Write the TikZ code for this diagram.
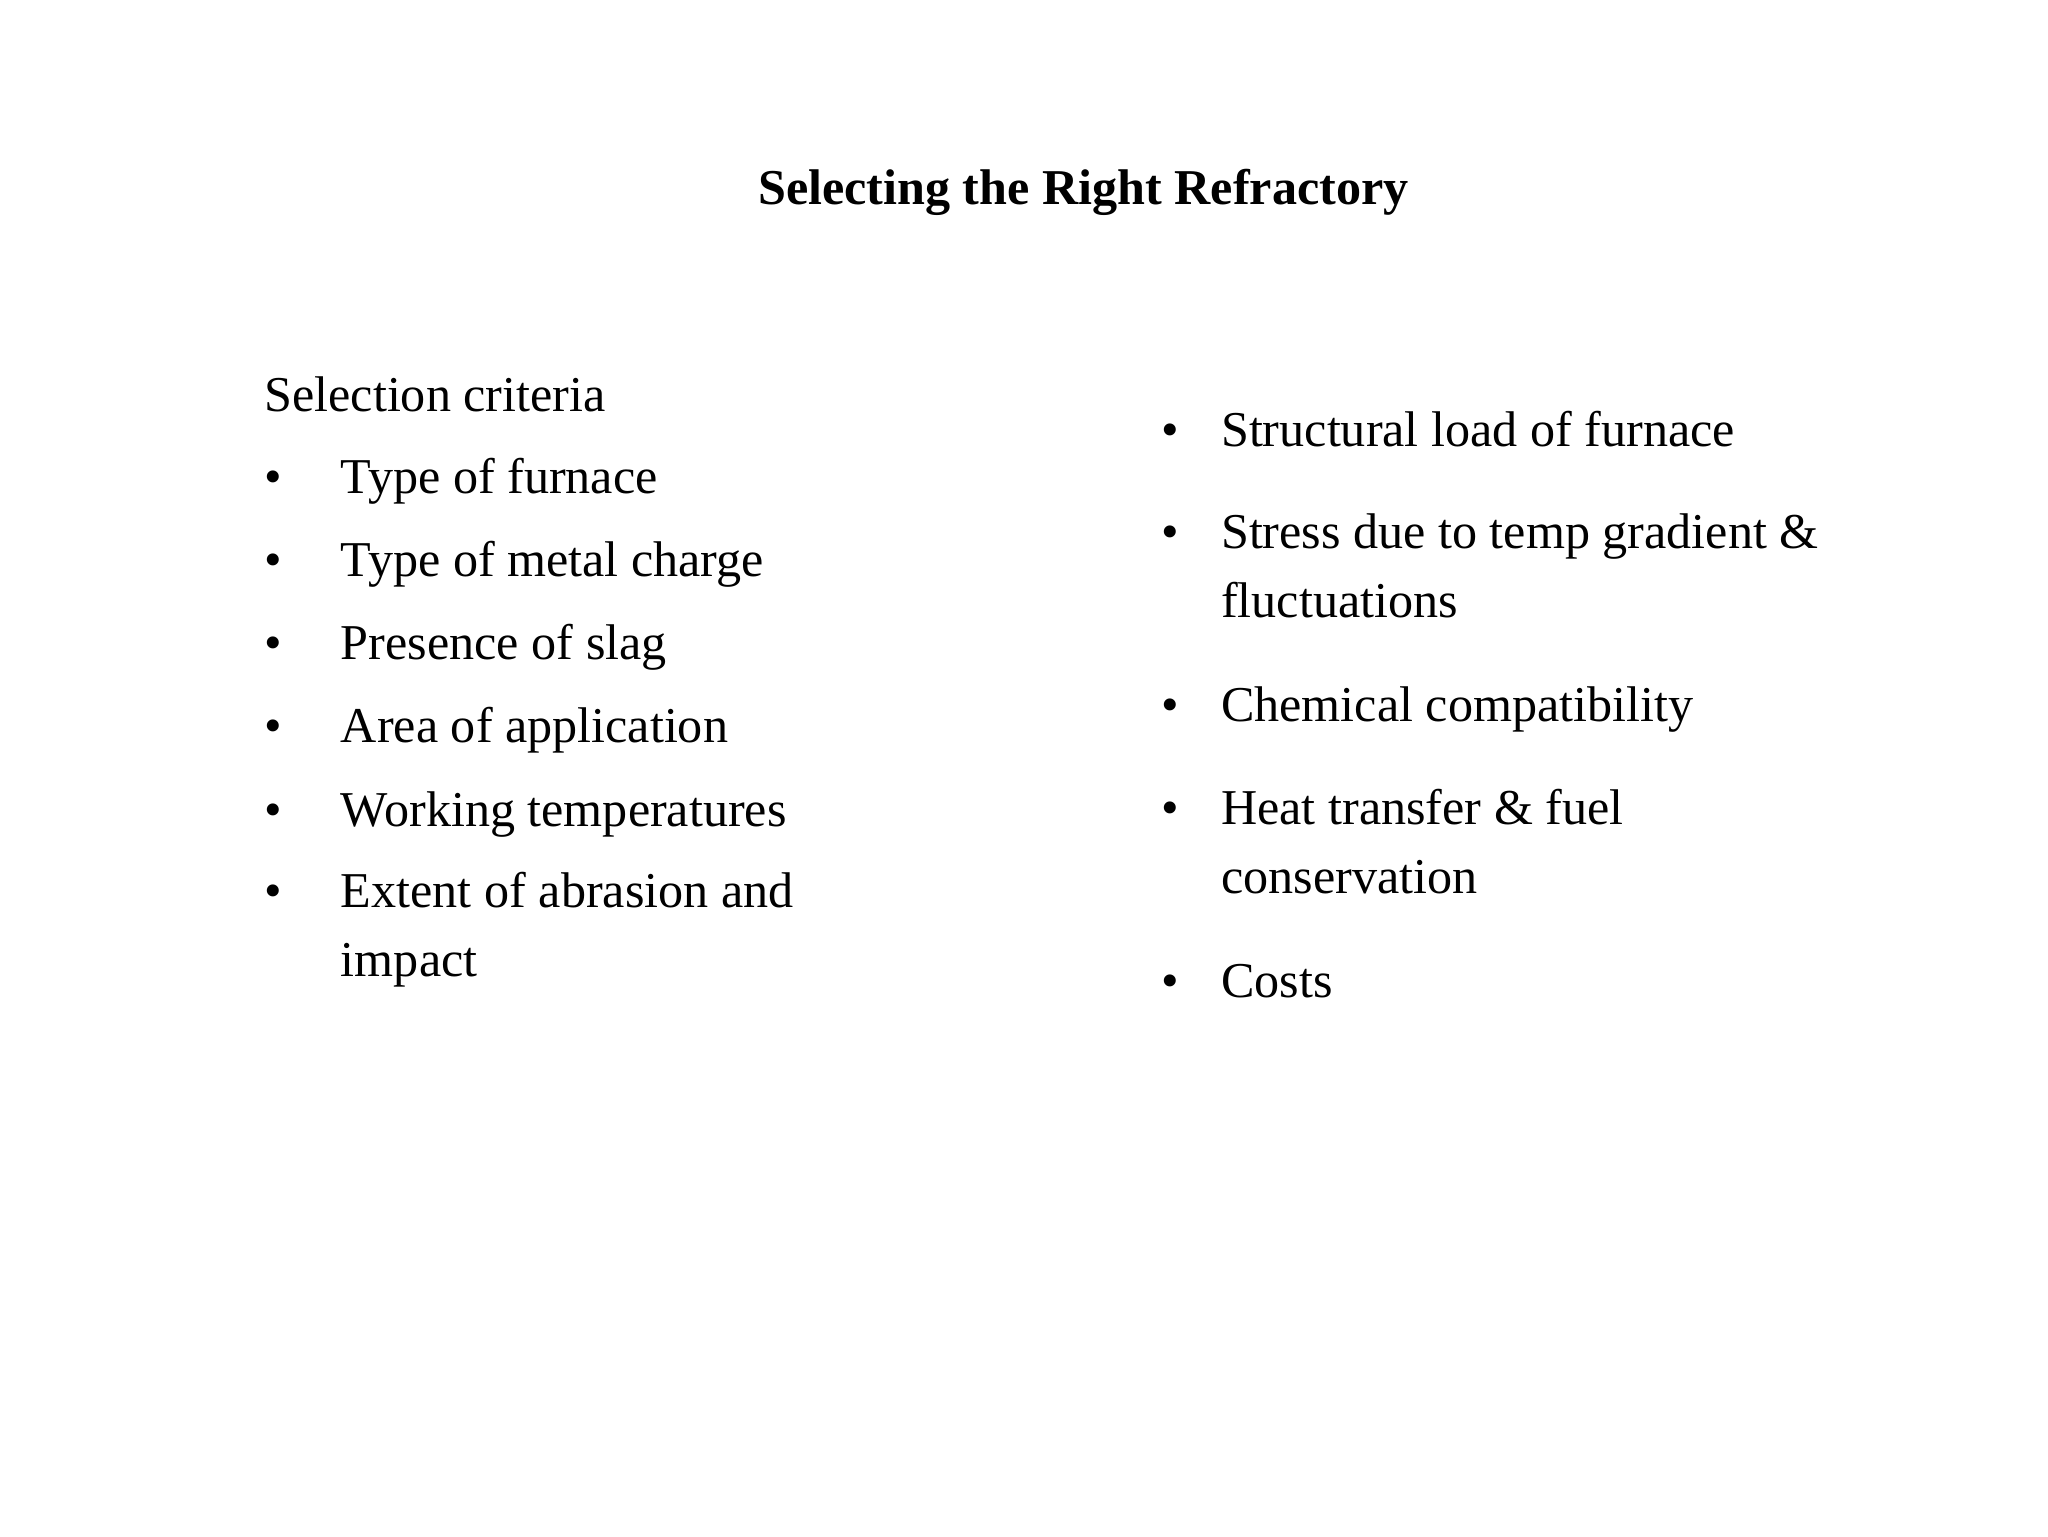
\documentclass[tikz,border=0pt]{standalone}
\usepackage{fontspec}
\setmainfont{Liberation Serif}
\begin{document}
\begin{tikzpicture}[x=0.5pt,y=-0.5pt,
  txt/.style={anchor=base west,inner sep=0pt,font=\fontsize{19pt}{23pt}\selectfont},
  ttl/.style={anchor=base,inner sep=0pt,font=\fontsize{19pt}{23pt}\selectfont\bfseries}]
\useasboundingbox[fill=white] (0,0) rectangle (1552,1164);
\node[ttl] (title) at (821,155) {Selecting the Right Refractory};
\node[txt] (crit) at (200,312) {Selection criteria};
\foreach \y/\t [count=\i] in {374/Type of furnace,437/Type of metal charge,500/Presence of slag,563/Area of application,626/Working temperatures,688/Extent of abrasion and}{
  \node[txt] (lb\i) at (200,\y) {•};
  \node[txt] (l\i) at (258,\y) {\t};
}
\node[txt] (l7) at (258,740) {impact};
\foreach \y/\t [count=\i] in {338/Structural load of furnace,416/Stress due to temp gradient \&,547/Chemical compatibility,625/Heat transfer \& fuel,756/Costs}{
  \node[txt] (rb\i) at (880,\y) {•};
  \node[txt] (r\i) at (925,\y) {\t};
}
\node[txt] (r6) at (925,468) {fluctuations};
\node[txt] (r7) at (925,677) {conservation};
\end{tikzpicture}
\end{document}
